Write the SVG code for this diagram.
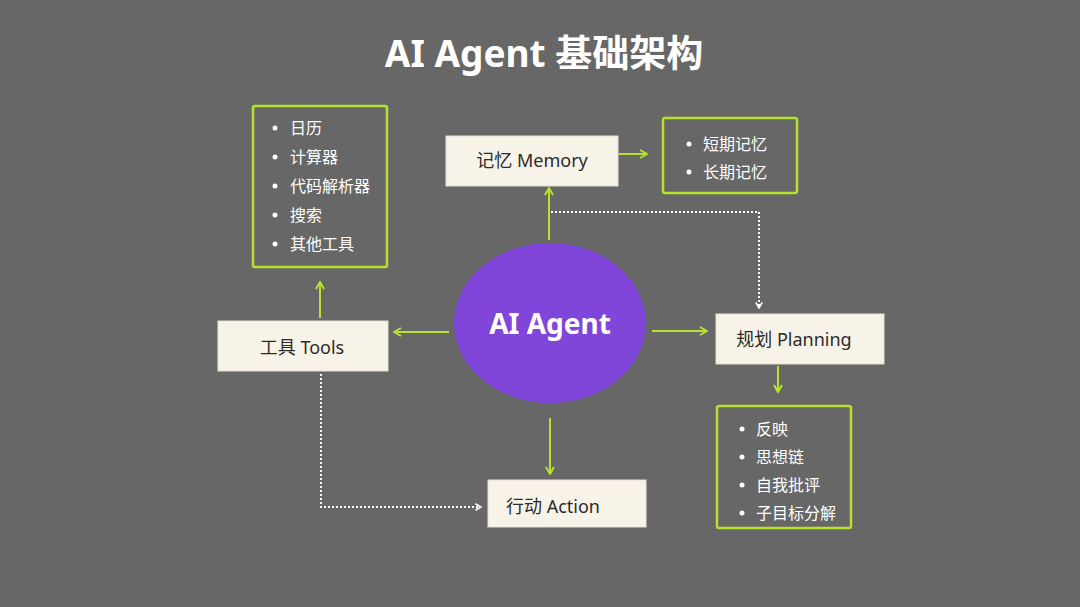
<svg xmlns="http://www.w3.org/2000/svg" width="1080" height="607" viewBox="0 0 1080 607">
<style>
.bg{fill:#676767}
.box{fill:#f8f3e9;stroke:#e6e0d4;stroke-width:1}
.list{fill:#676767;stroke:#b6e12e;stroke-width:2.5}
.t{font-family:"Noto Sans","Noto Sans CJK SC",sans-serif;font-size:18px;fill:#2b2b2b;text-anchor:middle;dominant-baseline:central}
.li{font-family:"Noto Sans","Noto Sans CJK SC",sans-serif;font-size:16px;fill:#ffffff;dominant-baseline:central}
.g{stroke:#b6e12e;stroke-width:2;fill:none}
.d{stroke:#ffffff;stroke-width:2;fill:none;stroke-dasharray:2 2}
</style>
<defs>
<marker id="ag" viewBox="0 0 10 10" refX="9" refY="5" markerWidth="5" markerHeight="5" orient="auto" markerUnits="strokeWidth"><polyline points="2,1 9,5 2,9" fill="none" stroke="#b6e12e" stroke-width="2"/></marker>
<marker id="aw" viewBox="0 0 10 10" refX="9" refY="5" markerWidth="4" markerHeight="4" orient="auto" markerUnits="strokeWidth"><polyline points="2,1 9,5 2,9" fill="none" stroke="#ffffff" stroke-width="2"/></marker>
</defs>
<rect class="bg" x="0" y="0" width="1080" height="607"/>
<text x="544" y="52" font-family="Noto Sans,Noto Sans CJK SC,sans-serif" font-size="37" font-weight="bold" fill="#ffffff" text-anchor="middle" dominant-baseline="central">AI Agent 基础架构</text>
<g id="connectors">
<line class="g" x1="549" y1="240" x2="549" y2="188" marker-end="url(#ag)"/>
<line class="g" x1="619" y1="154" x2="647" y2="154" marker-end="url(#ag)"/>
<line class="g" x1="449" y1="332" x2="394" y2="332" marker-end="url(#ag)"/>
<line class="g" x1="320" y1="318" x2="320" y2="282" marker-end="url(#ag)"/>
<line class="g" x1="652" y1="331" x2="707" y2="331" marker-end="url(#ag)"/>
<line class="g" x1="778" y1="366" x2="778" y2="392" marker-end="url(#ag)"/>
<line class="g" x1="550" y1="418" x2="550" y2="474" marker-end="url(#ag)"/>
<polyline class="d" points="551,212 759,212 759,308" marker-end="url(#aw)"/>
<polyline class="d" points="321,374 321,507 481,507" marker-end="url(#aw)"/>
</g>
<g id="agent"><ellipse cx="550" cy="323" rx="96" ry="80" fill="#7f46d9"/>
<text x="550" y="323" font-family="Noto Sans,sans-serif" font-size="28" font-weight="bold" fill="#ffffff" text-anchor="middle" dominant-baseline="central">AI Agent</text></g>
<g id="memory"><rect class="box" x="446" y="136" width="172" height="50"/><text class="t" x="532" y="160">记忆 Memory</text></g>
<g id="tools"><rect class="box" x="218" y="321" width="170" height="50"/><text class="t" x="302" y="347">工具 Tools</text></g>
<g id="planning"><rect class="box" x="716" y="314" width="168" height="50"/><text class="t" x="794" y="339">规划 Planning</text></g>
<g id="action"><rect class="box" x="488" y="480" width="158" height="47"/><text class="t" x="553" y="506">行动 Action</text></g>
<g id="tools-list"><rect class="list" x="253" y="106" width="134" height="161" rx="2"/>
<circle cx="275" cy="128" r="2.5" fill="#fff"/><text class="li" x="290" y="128">日历</text>
<circle cx="275" cy="157" r="2.5" fill="#fff"/><text class="li" x="290" y="157">计算器</text>
<circle cx="275" cy="186" r="2.5" fill="#fff"/><text class="li" x="290" y="186">代码解析器</text>
<circle cx="275" cy="215" r="2.5" fill="#fff"/><text class="li" x="290" y="215">搜索</text>
<circle cx="275" cy="244" r="2.5" fill="#fff"/><text class="li" x="290" y="244">其他工具</text></g>
<g id="memory-list"><rect class="list" x="663" y="118" width="134" height="75" rx="2"/>
<circle cx="689" cy="144" r="2.5" fill="#fff"/><text class="li" x="703" y="144">短期记忆</text>
<circle cx="689" cy="172" r="2.5" fill="#fff"/><text class="li" x="703" y="172">长期记忆</text></g>
<g id="planning-list"><rect class="list" x="717" y="406" width="134" height="122" rx="2"/>
<circle cx="742" cy="429" r="2.5" fill="#fff"/><text class="li" x="756" y="429">反映</text>
<circle cx="742" cy="457" r="2.5" fill="#fff"/><text class="li" x="756" y="457">思想链</text>
<circle cx="742" cy="485" r="2.5" fill="#fff"/><text class="li" x="756" y="485">自我批评</text>
<circle cx="742" cy="513" r="2.5" fill="#fff"/><text class="li" x="756" y="513">子目标分解</text></g>
</svg>
